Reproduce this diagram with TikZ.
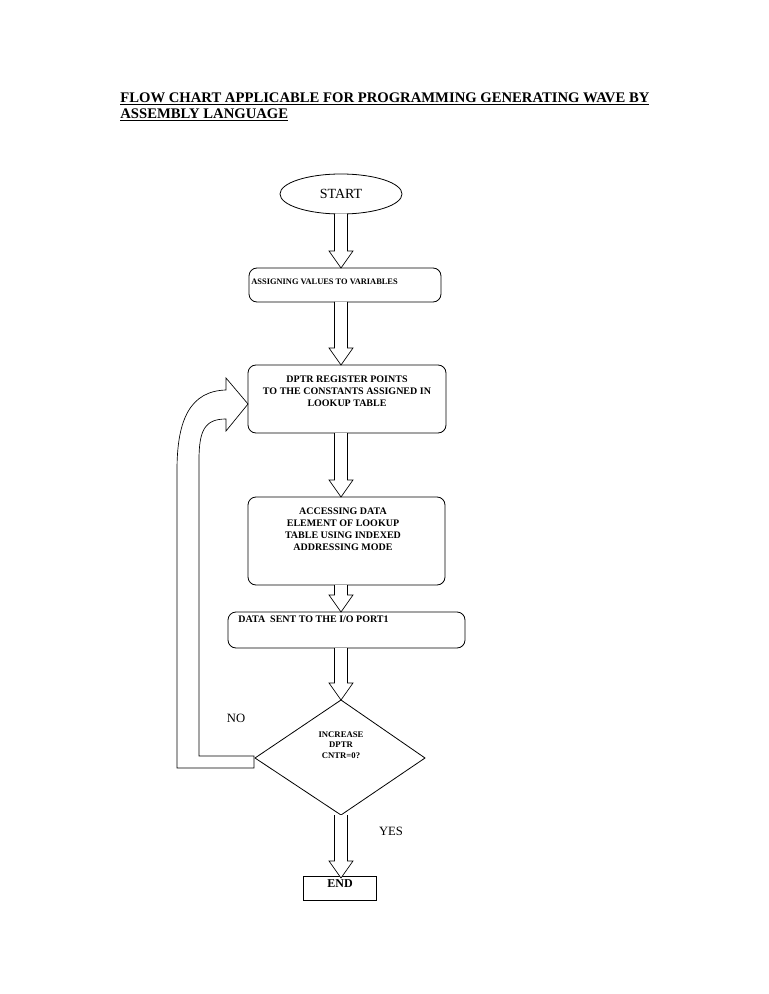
\documentclass[tikz,border=0pt]{standalone}
\usepackage{fontspec}
\setmainfont{Liberation Serif}
\usetikzlibrary{shapes.geometric}
\begin{document}
\begin{tikzpicture}[x=0.75pt,y=-0.75pt,line width=0.6pt,
  box/.style={draw,rounded corners=6pt,inner sep=0pt},
  txt/.style={font=\bfseries\fontsize{7.5}{9}\selectfont,align=center,inner sep=0pt},
  harrow/.style={draw,line width=0.5pt,fill=white}]
\useasboundingbox (0,0) rectangle (768,994);
\node[anchor=west,font=\fontsize{11}{13}\selectfont\bfseries,inner sep=0pt] (t1) at (120,99) {\underline{FLOW CHART APPLICABLE FOR PROGRAMMING GENERATING WAVE BY}};
\node[anchor=west,font=\fontsize{11}{13}\selectfont\bfseries,inner sep=0pt] (t2) at (120,115) {\underline{ASSEMBLY LANGUAGE}};
% shapes
\node[draw,ellipse,minimum width=122*0.75pt,minimum height=40*0.75pt,inner sep=0pt,font=\fontsize{10.5}{12}\selectfont] (start) at (341,194) {START};
\draw[box] (249,268) rectangle (441,302);
\node[txt,anchor=west,font=\bfseries\fontsize{6.3}{8}\selectfont] (b1) at (251,282) {ASSIGNING VALUES TO VARIABLES};
\draw[box] (248,365) rectangle (446,433);
\node[txt] (b2) at (347,391) {DPTR REGISTER POINTS\\TO THE CONSTANTS ASSIGNED IN\\LOOKUP TABLE};
\draw[box] (248,497) rectangle (445,585);
\node[txt] (b3) at (343,529) {ACCESSING DATA\\ELEMENT OF LOOKUP\\TABLE USING INDEXED\\ADDRESSING MODE};
\draw[box] (228,612) rectangle (465,648);
\node[txt,anchor=west] (b4) at (238,619) {DATA\ \ SENT TO THE I/O PORT1};
\draw (341,700) -- (425,758) -- (341,815) -- (255,758) -- cycle;
\node[txt,font=\bfseries\fontsize{6.5}{8}\selectfont] (d) at (341,745) {INCREASE\\DPTR\\CNTR=0?};
\draw (303,876) rectangle (376,900);
\node[txt,font=\bfseries\fontsize{9}{10}\selectfont] (end) at (340,884) {END};
\node[font=\fontsize{9.5}{11}\selectfont,inner sep=0pt] (no) at (236,718) {NO};
\node[font=\fontsize{9.5}{11}\selectfont,inner sep=0pt] (yes) at (391,831) {YES};
% hollow arrows
\foreach \ya/\yb in {214/268, 302/365, 433/497, 585/612, 648/700, 815/878}{
  \draw[harrow] (334.5,\ya) -- (334.5,\yb-17) -- (329,\yb-17) -- (341,\yb) -- (353,\yb-17) -- (347.5,\yb-17) -- (347.5,\ya);
}
% loop arrow
\draw[harrow] (254,768) -- (177,768) -- (177,470) .. controls (177,420) and (190,391) .. (226,390) -- (226,378) -- (248,404) -- (226,431) -- (226,419) .. controls (205,419) and (199,430) .. (199,460) -- (199,756) -- (254,756) -- cycle;
\end{tikzpicture}
\end{document}
